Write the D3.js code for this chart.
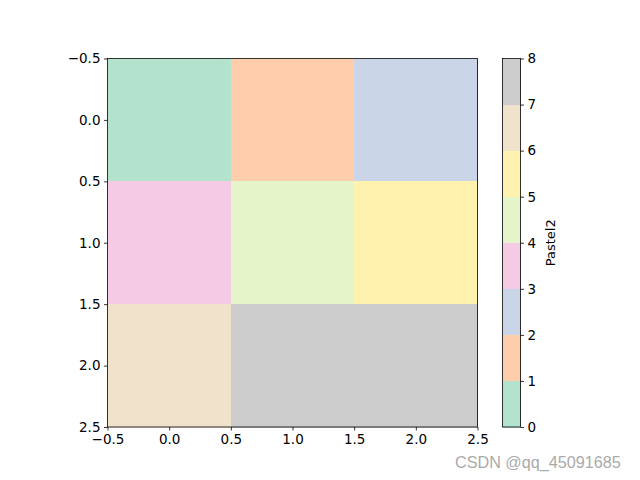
<!DOCTYPE html>
<html><head><meta charset="utf-8">
<script src="https://cdn.jsdelivr.net/npm/d3@7"></script>
<style>body{margin:0;background:#fff}svg{display:block}text{font-family:"DejaVu Sans",sans-serif}</style>
</head><body>
<svg id="c" width="640" height="480"></svg>
<script>
const values = [[0,1,2],[3,4,5],[6,7,8]];
const palette = ["#b3e2cd","#fdcdac","#cbd5e8","#f4cae4","#e6f5c9","#fff2ae","#f1e2cc","#cccccc"];
const axisTicks = [-0.5,0.0,0.5,1.0,1.5,2.0,2.5];
const cbarTicks = [0,1,2,3,4,5,6,7,8];
const cbarLabel = "Pastel2";
const watermark = "CSDN @qq_45091685";

const svg = d3.select("#c");
const L=107.5,R=477.5,T=58.5,B=427;
const x = d3.scaleLinear().domain([-0.5,2.5]).range([L,R]);
const y = d3.scaleLinear().domain([-0.5,2.5]).range([T,B]);
const vmin=0,vmax=8;
const color = v => palette[Math.min(palette.length-1, Math.floor((v-vmin)/(vmax-vmin)*palette.length))];

const cells=[];
values.forEach((row,i)=>row.forEach((v,j)=>cells.push({i,j,v})));
svg.append("g").selectAll("rect").data(cells).join("rect")
  .attr("x",d=>x(d.j-0.5)).attr("y",d=>y(d.i-0.5))
  .attr("width",d=>x(d.j+0.5)-x(d.j-0.5)+0.5).attr("height",d=>y(d.i+0.5)-y(d.i-0.5)+0.5)
  .attr("fill",d=>color(d.v)).attr("shape-rendering","crispEdges");

const fmt = d3.format(".1f");
const fmtT = d=> (d<0?"\u2212":"")+fmt(Math.abs(d));
const gx = svg.append("g").attr("transform",`translate(0,${B})`)
  .call(d3.axisBottom(x).tickValues(axisTicks).tickFormat(fmtT).tickSizeOuter(0).tickSize(3.5).tickPadding(3.5));
const gy = svg.append("g").attr("transform",`translate(${L},0)`)
  .call(d3.axisLeft(y).tickValues(axisTicks).tickFormat(fmtT).tickSizeOuter(0).tickSize(3.5).tickPadding(3.5));
[gx,gy].forEach(g=>{g.select(".domain").remove();g.selectAll("text").attr("font-size",13.5).attr("fill","#000");g.selectAll("line").attr("stroke","#000").attr("stroke-width",0.8);});
svg.append("rect").attr("x",L).attr("y",T).attr("width",R-L).attr("height",B-T)
  .attr("fill","none").attr("stroke","#000").attr("stroke-width",0.8);

// colorbar
const CL=502.5,CR=520.5;
const cy = d3.scaleLinear().domain([vmin,vmax]).range([B,T]);
const bins = d3.range(palette.length);
svg.append("g").selectAll("rect").data(bins).join("rect")
  .attr("x",CL).attr("width",CR-CL)
  .attr("y",k=>cy(vmin+(k+1)*(vmax-vmin)/palette.length))
  .attr("height",k=>cy(vmin+k*(vmax-vmin)/palette.length)-cy(vmin+(k+1)*(vmax-vmin)/palette.length)+0.5)
  .attr("fill",k=>palette[k]).attr("shape-rendering","crispEdges");
svg.append("rect").attr("x",CL).attr("y",T).attr("width",CR-CL).attr("height",B-T)
  .attr("fill","none").attr("stroke","#000").attr("stroke-width",0.8);
const gc = svg.append("g").attr("transform",`translate(${CR},0)`)
  .call(d3.axisRight(cy).tickValues(cbarTicks).tickFormat(d3.format("d")).tickSizeOuter(0).tickSize(3.5).tickPadding(3.5));
gc.select(".domain").remove();
gc.selectAll("text").attr("font-size",13.5).attr("fill","#000");
gc.selectAll("line").attr("stroke","#000").attr("stroke-width",0.8);
svg.append("text").attr("transform",`translate(555,${(T+B)/2}) rotate(-90)`)
  .attr("text-anchor","middle").attr("font-size",13).text(cbarLabel);

svg.append("text").attr("x",455).attr("y",468).attr("text-anchor","start")
  .attr("font-size",16.2).attr("fill","#aaaaaa").style("font-family","Arial, 'Liberation Sans', sans-serif").text(watermark);
</script>
</body></html>
